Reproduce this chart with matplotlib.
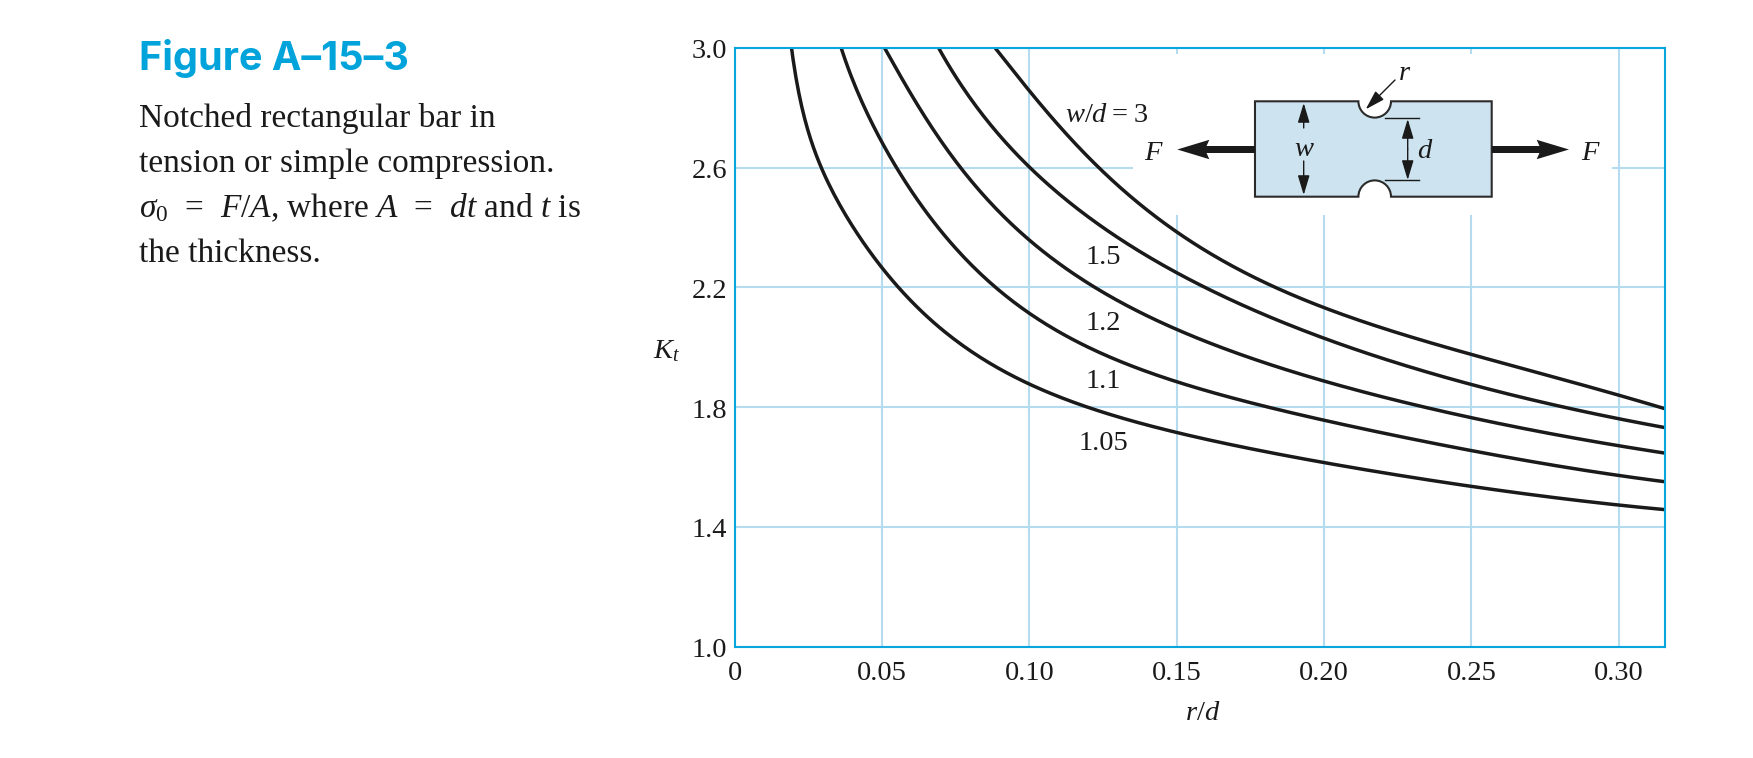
#!/usr/bin/env python3
# Kt chart for the notched rectangular bar, with the bar sketch as an inset
import numpy as np
import matplotlib
matplotlib.use("Agg")
import matplotlib.pyplot as plt
from matplotlib.patches import Polygon, Rectangle, PathPatch
from matplotlib.path import Path

plt.rcParams["font.family"] = "Liberation Serif"
plt.rcParams["mathtext.fontset"] = "custom"
plt.rcParams["mathtext.rm"] = "Liberation Serif"
plt.rcParams["mathtext.it"] = "Liberation Serif:italic"

# Curves (r/d, Kt)
x_105 = [0.0193, 0.0227, 0.0298, 0.0385, 0.05, 0.0549, 0.0842, 0.10, 0.1244, 0.15, 0.20, 0.25, 0.30, 0.3155]
y_105 = [3.0, 2.8, 2.6, 2.42, 2.275, 2.2, 1.963, 1.876, 1.788, 1.714, 1.612, 1.539, 1.472, 1.458]
x_11 = [0.0362, 0.0436, 0.05, 0.0543, 0.0887, 0.10, 0.1244, 0.15, 0.20, 0.25, 0.30, 0.3155]
y_11 = [3.0, 2.8, 2.704, 2.6, 2.2, 2.108, 1.985, 1.887, 1.751, 1.658, 1.573, 1.55]
x_12 = [0.0509, 0.0625, 0.0769, 0.10, 0.1215, 0.15, 0.20, 0.25, 0.30, 0.3155]
y_12 = [3.0, 2.8, 2.6, 2.359, 2.2, 2.063, 1.887, 1.765, 1.67, 1.648]
x_15 = [0.0693, 0.082, 0.10, 0.1244, 0.15, 0.20, 0.25, 0.30, 0.3155]
y_15 = [3.0, 2.8, 2.604, 2.408, 2.247, 2.026, 1.882, 1.757, 1.734]
x_3 = [0.0881, 0.10, 0.1231, 0.1354, 0.15, 0.20, 0.25, 0.30, 0.3155]
y_3 = [3.0, 2.865, 2.6, 2.492, 2.386, 2.138, 1.974, 1.835, 1.80]
curves = [(x_105, y_105), (x_11, y_11), (x_12, y_12), (x_15, y_15), (x_3, y_3)]

x_ticks = [0, 0.05, 0.10, 0.15, 0.20, 0.25, 0.30]
x_labels = ["0", "0.05", "0.10", "0.15", "0.20", "0.25", "0.30"]
y_ticks = [1.0, 1.4, 1.8, 2.2, 2.6, 3.0]
y_labels = ["1.0", "1.4", "1.8", "2.2", "2.6", "3.0"]

COL_AZUL = "#0aa5dc"
COL_GRID = "#b4dcee"
COL_NEGRO = "#1a1a1a"
COL_BARRA = "#cde4f0"
FS = 20.5


def suave(x, y, n=300):
    # least squares line through the read points, on log x, so hand reading noise does not show as bumps
    grado = 6 if len(x) >= 12 else (5 if len(x) >= 10 else 4)
    p = np.polynomial.Polynomial.fit(np.log(x), y, grado)
    xs = np.linspace(x[0] - 0.0005, x[-1], n)
    return xs, p(np.log(xs))


fig = plt.figure(figsize=(17.53, 7.58), dpi=100, facecolor="white")
ax = fig.add_axes([734.7 / 1753, 1 - 646.7 / 758, 929.8 / 1753, 598.7 / 758])

# overlay in picture pixels for the sketch and the free text
ov = fig.add_axes([0, 0, 1, 1], zorder=5)
ov.set_xlim(0, 1753)
ov.set_ylim(758, 0)
ov.axis("off")

ax.set_xlim(0, 0.3155)
ax.set_ylim(1.0, 3.0)
ax.set_xticks(x_ticks)
ax.set_yticks(y_ticks)
ax.set_xticklabels([])
ax.set_yticklabels([])
ax.tick_params(length=0)
ax.grid(True, color=COL_GRID, lw=1.5, zorder=1)
ax.set_axisbelow(True)
for s in ax.spines.values():
    s.set_color(COL_AZUL)
    s.set_linewidth(1.5)
    s.set_zorder(6)

# the grid stops around the sketch
ax.add_patch(Rectangle((1133, 54), 479, 161, transform=ov.transData,
                       facecolor="white", edgecolor="none", zorder=1.5))

for cx, cy in curves:
    xs, ys = suave(cx, cy)
    ax.plot(xs, ys, color=COL_NEGRO, lw=2.5, zorder=3, solid_capstyle="butt")

# tick labels
for v, lab in zip(x_ticks, x_labels):
    ov.text(734.7 + v * 2947, 674, lab, fontsize=FS, color=COL_NEGRO, ha="center", va="center")
for v, lab in zip(y_ticks, y_labels):
    ov.text(727, 650.5 - (v - 1) * 299.35, lab, fontsize=FS, color=COL_NEGRO, ha="right", va="center")
ov.text(1203, 713, r"$r/d$", fontsize=FS, color=COL_NEGRO, ha="center", va="center")
ov.text(667, 351, r"$K_t$", fontsize=FS, color=COL_NEGRO, ha="center", va="center")

# curve labels
ov.text(1107, 115, r"$w/d\;$=$\;$3", fontsize=FS, color=COL_NEGRO, ha="center", va="center")
for yy, lab in [(258, "1.5"), (323, "1.2"), (382, "1.1"), (443, "1.05")]:
    ov.text(1103, yy, lab, fontsize=FS, color=COL_NEGRO, ha="center", va="center")

# bar sketch
L, R, T, B = 1255, 1491.7, 101.3, 196.7
cx_n, rn = 1374.7, 16.3
k = 0.5523 * rn
verts = [(L, T), (cx_n - rn, T),
         (cx_n - rn, T + k), (cx_n - k, T + rn), (cx_n, T + rn),
         (cx_n + k, T + rn), (cx_n + rn, T + k), (cx_n + rn, T),
         (R, T), (R, B), (cx_n + rn, B),
         (cx_n + rn, B - k), (cx_n + k, B - rn), (cx_n, B - rn),
         (cx_n - k, B - rn), (cx_n - rn, B - k), (cx_n - rn, B),
         (L, B), (L, T)]
codes = [Path.MOVETO, Path.LINETO] + [Path.CURVE4] * 6 + [Path.LINETO] * 3 + [Path.CURVE4] * 6 + [Path.LINETO, Path.CLOSEPOLY]
ov.add_patch(PathPatch(Path(verts, codes), facecolor=COL_BARRA, edgecolor="#2b2b2b", lw=1.5))

# force arrows
ym = 149.5
ov.add_patch(Rectangle((R, ym - 3.4), 1541 - R, 6.8, facecolor=COL_NEGRO, edgecolor="none"))
ov.add_patch(Polygon([(1569, ym), (1536.7, ym - 9.7), (1541, ym), (1536.7, ym + 9.7)], facecolor=COL_NEGRO, edgecolor="none"))
ov.add_patch(Rectangle((1205, ym - 3.4), L - 1205, 6.8, facecolor=COL_NEGRO, edgecolor="none"))
ov.add_patch(Polygon([(1177.3, ym), (1209.3, ym - 9.7), (1205, ym), (1209.3, ym + 9.7)], facecolor=COL_NEGRO, edgecolor="none"))
ov.text(1590.7, 154, r"$F$", fontsize=FS, color=COL_NEGRO, ha="center", va="center")
ov.text(1154.3, 154, r"$F$", fontsize=FS, color=COL_NEGRO, ha="center", va="center")


def flecha(x0, y0, x1, y1):
    ov.annotate("", xy=(x1, y1), xytext=(x0, y0),
                arrowprops=dict(arrowstyle="-|>,head_length=0.6,head_width=0.18", mutation_scale=20,
                                color=COL_NEGRO, lw=1.0, shrinkA=0, shrinkB=0))


flecha(1303.7, 128, 1303.7, 103)
flecha(1303.7, 161, 1303.7, 195)
ov.text(1304, 149, r"$w$", fontsize=FS, color=COL_NEGRO, ha="center", va="center")
flecha(1407.7, 149, 1407.7, 119)
flecha(1407.7, 149, 1407.7, 180)
ov.plot([1385, 1419.3], [118, 118], color=COL_NEGRO, lw=1.0)
ov.plot([1385, 1419.3], [180, 180], color=COL_NEGRO, lw=1.0)
ov.text(1425, 151, r"$d$", fontsize=FS, color=COL_NEGRO, ha="center", va="center")
flecha(1395, 80, 1365.7, 109.3)
ov.text(1405, 74, r"$r$", fontsize=FS, color=COL_NEGRO, ha="center", va="center")

# left text column
ov.text(139, 70, "Figure A\u201315\u20133", fontsize=28.5, fontweight="bold", family="Inter",
        color="#00a3da", ha="left", va="baseline")
lineas = ["Notched rectangular bar in",
          "tension or simple compression.",
          r"$\sigma_0$  =  $F/A$, where $A$  =  $dt$ and $t$ is",
          "the thickness."]
for i, t in enumerate(lineas):
    ov.text(139, 126.7 + i * 45, t, fontsize=24, color=COL_NEGRO, ha="left", va="baseline")

ov.set_xlim(0, 1753)
ov.set_ylim(758, 0)
fig.savefig("out.png", dpi=100)
